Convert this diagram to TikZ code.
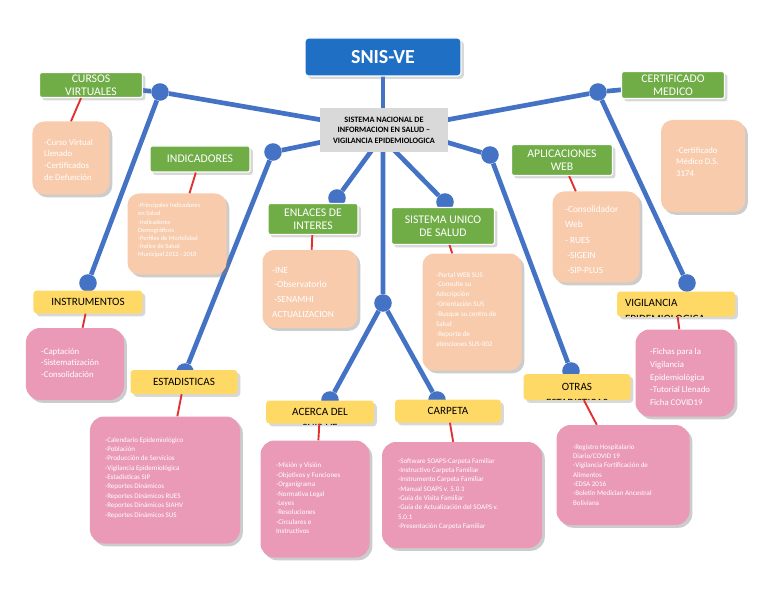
\documentclass[tikz,border=0pt]{standalone}
\usepackage{fontspec}
\setmainfont{Carlito}
\usetikzlibrary{shadows}
\definecolor{bl}{HTML}{4472C4}
\definecolor{top}{HTML}{1F6FC5}
\definecolor{gr}{HTML}{70AD47}
\definecolor{ye}{HTML}{FFD966}
\definecolor{pe}{HTML}{F8CBAD}
\definecolor{pk}{HTML}{EA9AB6}
\definecolor{rd}{HTML}{E0302F}
\tikzset{
 blue line/.style={bl,line width=4pt},
 dot/.style={circle,fill=bl,inner sep=0pt,minimum size=15pt},
 red line/.style={rd,line width=1.6pt},
 green/.style={fill=gr,draw=white,line width=1pt,rounded corners=2pt,drop shadow={opacity=0.3},text=white,align=center,font=\fontsize{10}{11}\selectfont},
 yellow/.style={fill=ye,rounded corners=3pt,drop shadow={opacity=0.3}},
 peach/.style={fill=pe,rounded corners=10pt,drop shadow={opacity=0.4}},
 pink/.style={fill=pk,rounded corners=12pt,drop shadow={opacity=0.4}},
 wt/.style={text=white,align=left,anchor=north west,font=\fontsize{6}{8}\selectfont},
 wt2/.style={text=white,align=left,anchor=north west,font=\fontsize{7.5}{10}\selectfont},
 yt/.style={font=\fontsize{9.5}{13}\selectfont,align=center}
}
\begin{document}
\begin{tikzpicture}[x=0.03cm,y=-0.03cm]
\useasboundingbox[fill=white] (0,0) rectangle (768,594);
% dots
\node[dot] (d1) at (160,92) {};
\node[dot] (d2) at (88,283) {};
\node[dot] (d3) at (273,152) {};
\node[dot] (d4) at (185,372) {};
\node[dot] (d5) at (337,198) {};
\node[dot] (d6) at (383,303) {};
\node[dot] (d7) at (330,400) {};
\node[dot] (d8) at (437,400) {};
\node[dot] (d9) at (445,202) {};
\node[dot] (d10) at (490,155) {};
\node[dot] (d11) at (571,371) {};
\node[dot] (d12) at (598,92) {};
\node[dot] (d13) at (687,283) {};
\coordinate (cl1) at (322,120);
\coordinate (cl2) at (322,142);
\coordinate (cr1) at (446,120);
\coordinate (cr2) at (446,142);
\coordinate (cb1) at (372,150);
\coordinate (cb2) at (383,150);
\coordinate (cb3) at (394,150);
\coordinate (ct) at (383,76);
\coordinate (cu) at (383,110);
\draw[blue line] (ct) -- (cu);
\draw[blue line] (cl1) -- (d1) -- (d2);
\draw[blue line] (d1) -- (115,88);
\draw[blue line] (cl2) -- (d3) -- (d4);
\draw[blue line] (cb1) -- (d5);
\draw[blue line] (cb2) -- (d6) -- (d7);
\draw[blue line] (d6) -- (d8);
\draw[blue line] (cb3) -- (d9);
\draw[blue line] (cr2) -- (d10) -- (d11);
\draw[blue line] (cr1) -- (d12) -- (d13);
\draw[blue line] (d12) -- (640,88);
% top
\node[fill=top,draw=white,line width=1pt,rounded corners=3pt,drop shadow={opacity=0.3},text=white,font=\bfseries\fontsize{17}{18}\selectfont,minimum width=4.68cm,minimum height=1.14cm] (snis) at (383,57) {SNIS-VE};
\node[fill=black!15,font=\bfseries\fontsize{7}{9}\selectfont,align=center,minimum width=3.84cm,minimum height=1.32cm,inner sep=1pt] (cen) at (384,130) {SISTEMA NACIONAL DE\\INFORMACION EN SALUD --\\VIGILANCIA EPIDEMIOLOGICA};
% green labels
\node[green,minimum width=3.09cm,minimum height=0.75cm,inner sep=1pt] (cv) at (91,85) {CURSOS\\VIRTUALES};
\node[green,minimum width=3cm,minimum height=0.78cm] (ind) at (200,159) {INDICADORES};
\node[green,minimum width=2.7cm,minimum height=0.93cm,inner sep=1pt] (enl) at (313,219) {ENLACES DE\\INTERES};
\node[green,minimum width=3.09cm,minimum height=1.11cm,inner sep=1pt] (sus) at (443,226) {SISTEMA UNICO\\DE SALUD};
\node[green,minimum width=3.03cm,minimum height=0.93cm,inner sep=1pt] (app) at (562,160) {APLICACIONES\\WEB};
\node[green,minimum width=3.09cm,minimum height=0.81cm,inner sep=1pt] (cert) at (673,85) {CERTIFICADO\\MEDICO};
% peach boxes
\node[peach,minimum width=2.31cm,minimum height=2.19cm] (pcv) at (71,158) {};
\node[wt2] at (40,135) {-Curso Virtual\\Llenado\\-Certificados\\de Defunción};
\node[peach,minimum width=2.97cm,minimum height=2.43cm] (pind) at (177,234) {};
\node[wt,font=\fontsize{5.5}{7}\selectfont] at (134,199) {-Principales Indicadores\\en Salud\\-Indicadores\\Demográficos\\-Perfiles de Morbilidad\\-Índice de Salud\\Municipal 2012 - 2018};
\node[peach,minimum width=2.85cm,minimum height=2.34cm] (penl) at (310,289) {};
\node[wt2,font=\fontsize{8}{12.5}\selectfont] at (268,263) {-INE\\\ -Observatorio\\\ -SENAMHI\\ACTUALIZACION};
\node[peach,minimum width=2.97cm,minimum height=3.51cm] (psus) at (472,312) {};
\node[wt,font=\fontsize{6}{8.5}\selectfont] at (432,268) {-Portal WEB SUS\\-Consulte su\\Adscripción\\-Orientación SUS\\-Busque su centro de\\Salud\\-Reporte de\\atenciones SUS-002};
\node[peach,minimum width=2.61cm,minimum height=2.73cm] (papp) at (596,237) {};
\node[wt2,font=\fontsize{8}{13}\selectfont] at (561,202) {-Consolidador\\Web\\- RUES\\\ -SIGEIN\\\ -SIP-PLUS};
\node[peach,minimum width=2.52cm,minimum height=2.76cm] (pcert) at (703,166) {};
\node[wt2] at (672,143) {-Certificado\\Médico D.S.\\3174};
% yellow labels
\node[yellow,yt,minimum width=3.27cm,minimum height=0.69cm] (ins) at (88,302) {INSTRUMENTOS};
\node[yellow,yt,minimum width=3.21cm,minimum height=0.72cm] (est) at (184,382) {ESTADISTICAS};
\node[yellow,minimum width=3.24cm,minimum height=0.69cm] (acer) at (320,412) {};
\begin{scope}\clip[rounded corners=3pt] (266,401) rectangle (374,424);
\node[yt] at (320,420) {ACERCA DEL\\SNIS-VE};\end{scope}
\node[yellow,yt,minimum width=3.18cm,minimum height=0.69cm] (carp) at (448,411) {CARPETA};
\node[yellow,minimum width=3.21cm,minimum height=0.78cm] (otr) at (577,387) {};
\begin{scope}\clip[rounded corners=3pt] (524,375) rectangle (631,399);
\node[yt] at (577,395) {OTRAS\\ESTADISTICAS};\end{scope}
\node[yellow,minimum width=3.54cm,minimum height=0.75cm] (vig) at (676,304) {};
\begin{scope}\clip[rounded corners=3pt] (617,293) rectangle (735,316);
\node[yt,align=left] at (665,311) {VIGILANCIA\\EPIDEMIOLOGICA};\end{scope}
% pink boxes
\node[pink,minimum width=2.94cm,minimum height=2.16cm] (pins) at (75,364) {};
\node[wt2] at (37,344) {-Captación\\-Sistematización\\-Consolidación};
\node[pink,minimum width=4.5cm,minimum height=3.81cm] (pest) at (165,480) {};
\node[wt] at (101,433) {-Calendario Epidemiológico\\-Población\\-Producción de Servicios\\-Vigilancia Epidemiológica\\-Estadísticas SIP\\-Reportes Dinámicos\\-Reportes Dinámicos RUES\\-Reportes Dinámicos SIAHV\\-Reportes Dinámicos SUS};
\node[pink,minimum width=3.27cm,minimum height=3.51cm] (pacer) at (315,499) {};
\node[wt] at (272,459) {-Misión y Visión\\-Objetivos y Funciones\\-Organigrama\\-Normativa Legal\\-Leyes\\-Resoluciones\\-Circulares e\\Instructivos};
\node[pink,minimum width=4.8cm,minimum height=3.18cm] (pcarp) at (462,495) {};
\node[wt] at (394,454) {-Software SOAPS-Carpeta Familiar\\-Instructivo Carpeta Familiar\\-Instrumento Carpeta Familiar\\-Manual SOAPS v. 5.0.1\\-Guía de Visita Familiar\\-Guía de Actualización del SOAPS v.\\5.0.1\\-Presentación Carpeta Familiar};
\node[pink,minimum width=3.99cm,minimum height=3cm] (potr) at (623,475) {};
\node[wt] at (569,440) {-Registro Hospitalario\\Diario/COVID 19\\-Vigilancia Fortificación de\\Alimentos\\-EDSA 2016\\-Boletín Medician Ancestral\\Boliviana};
\node[pink,minimum width=2.97cm,minimum height=2.61cm] (pvig) at (685,373) {};
\node[wt2,font=\fontsize{7.5}{11}\selectfont] at (646,344) {-Fichas para la\\Vigilancia\\Epidemiológica\\-Tutorial Llenado\\Ficha COVID19};
% red connectors
\draw[red line] (cv.south) ++(-10,0) -- (pcv.north);
\draw[red line] (ind) -- (pind);
\draw[red line] (enl) -- (penl);
\draw[red line] (sus) -- (psus);
\draw[red line] (app) -- (papp);
\draw[red line] (ins) -- (pins);
\draw[red line] (est) -- (pest);
\draw[red line] (acer) -- (pacer);
\draw[red line] (carp) -- (pcarp);
\draw[red line] (otr) -- (potr);
\draw[red line] (vig) -- (pvig);
\end{tikzpicture}
\end{document}
